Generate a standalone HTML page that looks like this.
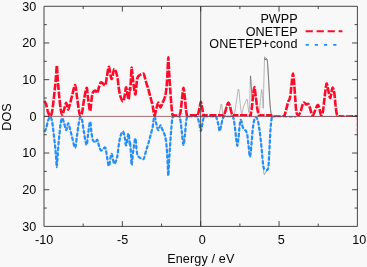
<!DOCTYPE html>
<html><head><meta charset="utf-8"><title>DOS</title>
<style>html,body{margin:0;padding:0;background:#f8f8f8;overflow:hidden}body{width:367px;height:267px;position:relative}</style></head>
<body>
<svg width="367" height="267" viewBox="0 0 367 267" style="display:block;position:absolute;left:0;top:0;filter:blur(0.3px)">
<rect width="367" height="267" fill="#f8f8f8"/>
<g fill="none" stroke="#5a5a5a" stroke-width="0.5" stroke-linejoin="round">
<path d="M201.00,116.40 C203.17,116.40 211.08,116.47 214.00,116.40 C216.92,116.33 217.50,117.07 218.50,116.00 C219.50,114.93 219.53,112.00 220.00,110.00 C220.47,108.00 220.92,104.00 221.30,104.00 C221.68,104.00 221.98,108.00 222.30,110.00 C222.62,112.00 222.75,115.50 223.20,116.00 C223.65,116.50 224.20,115.17 225.00,113.00 C225.80,110.83 227.00,103.00 228.00,103.00 C229.00,103.00 230.17,110.83 231.00,113.00 C231.83,115.17 232.42,115.83 233.00,116.00 C233.58,116.17 233.92,116.50 234.50,114.00 C235.08,111.50 235.83,105.17 236.50,101.00 C237.17,96.83 237.92,88.83 238.50,89.00 C239.08,89.17 239.47,97.88 240.00,102.00 C240.53,106.12 241.12,112.87 241.70,113.70 C242.28,114.53 242.83,109.00 243.50,107.00 C244.17,105.00 245.08,102.95 245.70,101.70 C246.32,100.45 246.78,98.45 247.20,99.50 C247.62,100.55 247.87,105.92 248.20,108.00 C248.53,110.08 248.92,114.00 249.20,112.00 C249.48,110.00 249.68,102.00 249.90,96.00 C250.12,90.00 250.28,77.67 250.50,76.00 C250.72,74.33 250.98,83.17 251.20,86.00 C251.42,88.83 251.55,90.67 251.80,93.00 C252.05,95.33 252.28,100.83 252.70,100.00 C253.12,99.17 253.75,88.33 254.30,88.00 C254.85,87.67 255.38,94.00 256.00,98.00 C256.62,102.00 257.42,110.00 258.00,112.00 C258.58,114.00 259.08,112.00 259.50,110.00 C259.92,108.00 260.13,103.42 260.50,100.00 C260.87,96.58 261.33,89.50 261.70,89.50 C262.07,89.50 262.45,96.92 262.70,100.00 C262.95,103.08 263.02,110.50 263.20,108.00 C263.38,105.50 263.57,93.32 263.80,85.00 C264.03,76.68 264.32,62.27 264.60,58.10 C264.88,53.93 265.27,59.85 265.50,60.00 C265.73,60.15 265.70,58.87 266.00,59.00 C266.30,59.13 266.88,57.63 267.30,60.80 C267.72,63.97 268.05,70.80 268.50,78.00 C268.95,85.20 269.52,97.83 270.00,104.00 C270.48,110.17 270.90,112.93 271.40,115.00 C271.90,117.07 258.73,116.17 273.00,116.40 C287.27,116.63 343.00,116.40 357.00,116.40" stroke="#727272"/>
<path d="M264.60,58.10 C264.75,58.42 265.27,59.85 265.50,60.00 C265.73,60.15 265.70,58.87 266.00,59.00 C266.30,59.13 266.88,57.63 267.30,60.80 C267.72,63.97 268.05,70.80 268.50,78.00 C268.95,85.20 269.52,97.83 270.00,104.00 C270.48,110.17 271.17,113.17 271.40,115.00" stroke="#4a4a4a" stroke-width="0.6"/>
<path d="M250.50,76.00 C250.62,77.67 250.98,83.17 251.20,86.00 C251.42,88.83 251.55,90.67 251.80,93.00 C252.05,95.33 252.55,98.83 252.70,100.00" stroke="#555" stroke-width="0.55"/>
<path d="M44.30,131.80 C44.58,131.30 45.38,130.63 46.00,128.80 C46.62,126.97 47.28,122.80 48.00,120.80 C48.72,118.80 49.63,116.80 50.30,116.80 C50.97,116.80 51.45,118.13 52.00,120.80 C52.55,123.47 53.17,129.30 53.60,132.80 C54.03,136.30 54.28,138.88 54.60,141.80 C54.92,144.72 55.23,147.47 55.50,150.30 C55.77,153.13 55.98,155.98 56.20,158.80 C56.42,161.62 56.60,167.20 56.80,167.20 C57.00,167.20 57.20,161.62 57.40,158.80 C57.60,155.98 57.78,153.13 58.00,150.30 C58.22,147.47 58.43,144.72 58.70,141.80 C58.97,138.88 59.25,135.97 59.60,132.80 C59.95,129.63 60.37,125.25 60.80,122.80 C61.23,120.35 61.67,118.10 62.20,118.10 C62.73,118.10 63.33,120.80 64.00,122.80 C64.67,124.80 65.53,130.02 66.20,130.10 C66.87,130.18 67.42,123.68 68.00,123.30 C68.58,122.92 69.03,125.55 69.70,127.80 C70.37,130.05 71.10,133.48 72.00,136.80 C72.90,140.12 74.27,147.87 75.10,147.70 C75.93,147.53 76.35,140.12 77.00,135.80 C77.65,131.48 78.45,124.88 79.00,121.80 C79.55,118.72 79.80,117.63 80.30,117.30 C80.80,116.97 81.38,117.22 82.00,119.80 C82.62,122.38 83.23,128.60 84.00,132.80 C84.77,137.00 85.93,144.67 86.60,145.00 C87.27,145.33 87.42,138.67 88.00,134.80 C88.58,130.93 89.52,122.13 90.10,121.80 C90.68,121.47 91.07,129.80 91.50,132.80 C91.93,135.80 92.05,138.22 92.70,139.80 C93.35,141.38 94.63,142.30 95.40,142.30 C96.17,142.30 96.70,139.22 97.30,139.80 C97.90,140.38 98.42,144.03 99.00,145.80 C99.58,147.57 100.13,149.82 100.80,150.40 C101.47,150.98 102.23,149.73 103.00,149.30 C103.77,148.87 104.73,146.55 105.40,147.80 C106.07,149.05 106.40,153.77 107.00,156.80 C107.60,159.83 108.25,166.50 109.00,166.00 C109.75,165.50 110.62,154.17 111.50,153.80 C112.38,153.43 113.33,163.38 114.30,163.80 C115.27,164.22 116.60,159.13 117.30,156.30 C118.00,153.47 118.00,150.05 118.50,146.80 C119.00,143.55 119.55,139.37 120.30,136.80 C121.05,134.23 122.25,131.23 123.00,131.40 C123.75,131.57 124.27,135.48 124.80,137.80 C125.33,140.12 125.58,146.02 126.20,145.30 C126.82,144.58 127.92,133.75 128.50,133.50 C129.08,133.25 129.42,142.25 129.70,143.80 C129.98,145.35 129.98,140.97 130.20,142.80 C130.42,144.63 130.75,151.08 131.00,154.80 C131.25,158.52 131.37,165.43 131.70,165.10 C132.03,164.77 132.40,157.23 133.00,152.80 C133.60,148.37 134.72,139.17 135.30,138.50 C135.88,137.83 136.12,146.00 136.50,148.80 C136.88,151.60 137.02,153.80 137.60,155.30 C138.18,156.80 139.02,157.17 140.00,157.80 C140.98,158.43 142.67,159.60 143.50,159.10 C144.33,158.60 144.50,156.43 145.00,154.80 C145.50,153.17 146.00,150.97 146.50,149.30 C147.00,147.63 147.42,146.80 148.00,144.80 C148.58,142.80 149.25,140.13 150.00,137.30 C150.75,134.47 151.77,131.28 152.50,127.80 C153.23,124.32 153.77,117.07 154.40,116.40 C155.03,115.73 155.67,121.52 156.30,123.80 C156.93,126.08 157.50,129.85 158.20,130.10 C158.90,130.35 159.78,125.35 160.50,125.30 C161.22,125.25 161.75,128.05 162.50,129.80 C163.25,131.55 164.38,133.63 165.00,135.80 C165.62,137.97 165.85,139.97 166.20,142.80 C166.55,145.63 166.85,149.13 167.10,152.80 C167.35,156.47 167.50,161.00 167.70,164.80 C167.90,168.60 168.10,175.60 168.30,175.60 C168.50,175.60 168.68,168.60 168.90,164.80 C169.12,161.00 169.35,156.80 169.60,152.80 C169.85,148.80 170.12,144.80 170.40,140.80 C170.68,136.80 170.98,132.47 171.30,128.80 C171.62,125.13 171.93,120.87 172.30,118.80 C172.67,116.73 172.38,116.80 173.50,116.40 C174.62,116.00 177.83,115.67 179.00,116.40 C180.17,117.13 180.00,117.90 180.50,120.80 C181.00,123.70 181.50,129.77 182.00,133.80 C182.50,137.83 183.00,145.00 183.50,145.00 C184.00,145.00 184.58,137.50 185.00,133.80 C185.42,130.10 185.67,125.55 186.00,122.80 C186.33,120.05 186.58,118.37 187.00,117.30 C187.42,116.23 186.92,116.55 188.50,116.40 C190.08,116.25 194.95,116.17 196.50,116.40 C198.05,116.63 197.30,116.40 197.80,117.80 C198.30,119.20 198.98,122.60 199.50,124.80 C200.02,127.00 200.45,131.00 200.90,131.00 C201.35,131.00 201.75,127.00 202.20,124.80 C202.65,122.60 203.17,119.20 203.60,117.80 C204.03,116.40 202.92,116.63 204.80,116.40 C206.68,116.17 212.95,116.13 214.90,116.40 C216.85,116.67 215.95,116.73 216.50,118.00 C217.05,119.27 217.67,121.83 218.20,124.00 C218.73,126.17 219.20,130.83 219.70,131.00 C220.20,131.17 220.68,127.08 221.20,125.00 C221.72,122.92 222.28,119.93 222.80,118.50 C223.32,117.07 222.77,116.75 224.30,116.40 C225.83,116.05 230.38,115.80 232.00,116.40 C233.62,117.00 233.33,116.40 234.00,120.00 C234.67,123.60 235.45,133.58 236.00,138.00 C236.55,142.42 236.88,146.33 237.30,146.50 C237.72,146.67 237.97,143.42 238.50,139.00 C239.03,134.58 239.80,122.00 240.50,120.00 C241.20,118.00 242.02,125.33 242.70,127.00 C243.38,128.67 243.83,128.58 244.60,130.00 C245.37,131.42 246.40,130.92 247.30,135.50 C248.20,140.08 249.10,158.42 250.00,157.50 C250.90,156.58 251.80,136.67 252.70,130.00 C253.60,123.33 254.50,118.92 255.40,117.50 C256.30,116.08 257.20,117.58 258.10,121.50 C259.00,125.42 260.15,135.67 260.80,141.00 C261.45,146.33 261.62,149.58 262.00,153.50 C262.38,157.42 262.75,161.03 263.10,164.50 C263.45,167.97 263.73,172.93 264.10,174.30 C264.47,175.67 264.90,173.25 265.30,172.70 C265.70,172.15 266.10,171.53 266.50,171.00 C266.90,170.47 267.37,170.42 267.70,169.50 C268.03,168.58 268.27,167.75 268.50,165.50 C268.73,163.25 268.88,159.92 269.10,156.00 C269.32,152.08 269.55,146.67 269.80,142.00 C270.05,137.33 270.30,131.87 270.60,128.00 C270.90,124.13 271.20,120.73 271.60,118.80 C272.00,116.87 272.77,116.80 273.00,116.40"/>
</g>
<defs><clipPath id="cu"><rect x="0" y="0" width="367" height="116.60"/></clipPath><clipPath id="cd"><rect x="0" y="116.20" width="367" height="200"/></clipPath></defs>
<path clip-path="url(#cd)" d="M44.30,131.80 C44.58,131.30 45.38,130.63 46.00,128.80 C46.62,126.97 47.28,122.80 48.00,120.80 C48.72,118.80 49.63,116.80 50.30,116.80 C50.97,116.80 51.45,118.13 52.00,120.80 C52.55,123.47 53.17,129.30 53.60,132.80 C54.03,136.30 54.28,138.88 54.60,141.80 C54.92,144.72 55.23,147.47 55.50,150.30 C55.77,153.13 55.98,155.98 56.20,158.80 C56.42,161.62 56.60,167.20 56.80,167.20 C57.00,167.20 57.20,161.62 57.40,158.80 C57.60,155.98 57.78,153.13 58.00,150.30 C58.22,147.47 58.43,144.72 58.70,141.80 C58.97,138.88 59.25,135.97 59.60,132.80 C59.95,129.63 60.37,125.25 60.80,122.80 C61.23,120.35 61.67,118.10 62.20,118.10 C62.73,118.10 63.33,120.80 64.00,122.80 C64.67,124.80 65.53,130.02 66.20,130.10 C66.87,130.18 67.42,123.68 68.00,123.30 C68.58,122.92 69.03,125.55 69.70,127.80 C70.37,130.05 71.10,133.48 72.00,136.80 C72.90,140.12 74.27,147.87 75.10,147.70 C75.93,147.53 76.35,140.12 77.00,135.80 C77.65,131.48 78.45,124.88 79.00,121.80 C79.55,118.72 79.80,117.63 80.30,117.30 C80.80,116.97 81.38,117.22 82.00,119.80 C82.62,122.38 83.23,128.60 84.00,132.80 C84.77,137.00 85.93,144.67 86.60,145.00 C87.27,145.33 87.42,138.67 88.00,134.80 C88.58,130.93 89.52,122.13 90.10,121.80 C90.68,121.47 91.07,129.80 91.50,132.80 C91.93,135.80 92.05,138.22 92.70,139.80 C93.35,141.38 94.63,142.30 95.40,142.30 C96.17,142.30 96.70,139.22 97.30,139.80 C97.90,140.38 98.42,144.03 99.00,145.80 C99.58,147.57 100.13,149.82 100.80,150.40 C101.47,150.98 102.23,149.73 103.00,149.30 C103.77,148.87 104.73,146.55 105.40,147.80 C106.07,149.05 106.40,153.77 107.00,156.80 C107.60,159.83 108.25,166.50 109.00,166.00 C109.75,165.50 110.62,154.17 111.50,153.80 C112.38,153.43 113.33,163.38 114.30,163.80 C115.27,164.22 116.60,159.13 117.30,156.30 C118.00,153.47 118.00,150.05 118.50,146.80 C119.00,143.55 119.55,139.37 120.30,136.80 C121.05,134.23 122.25,131.23 123.00,131.40 C123.75,131.57 124.27,135.48 124.80,137.80 C125.33,140.12 125.58,146.02 126.20,145.30 C126.82,144.58 127.92,133.75 128.50,133.50 C129.08,133.25 129.42,142.25 129.70,143.80 C129.98,145.35 129.98,140.97 130.20,142.80 C130.42,144.63 130.75,151.08 131.00,154.80 C131.25,158.52 131.37,165.43 131.70,165.10 C132.03,164.77 132.40,157.23 133.00,152.80 C133.60,148.37 134.72,139.17 135.30,138.50 C135.88,137.83 136.12,146.00 136.50,148.80 C136.88,151.60 137.02,153.80 137.60,155.30 C138.18,156.80 139.02,157.17 140.00,157.80 C140.98,158.43 142.67,159.60 143.50,159.10 C144.33,158.60 144.50,156.43 145.00,154.80 C145.50,153.17 146.00,150.97 146.50,149.30 C147.00,147.63 147.42,146.80 148.00,144.80 C148.58,142.80 149.25,140.13 150.00,137.30 C150.75,134.47 151.77,131.28 152.50,127.80 C153.23,124.32 153.77,117.07 154.40,116.40 C155.03,115.73 155.67,121.52 156.30,123.80 C156.93,126.08 157.50,129.85 158.20,130.10 C158.90,130.35 159.78,125.35 160.50,125.30 C161.22,125.25 161.75,128.05 162.50,129.80 C163.25,131.55 164.38,133.63 165.00,135.80 C165.62,137.97 165.85,139.97 166.20,142.80 C166.55,145.63 166.85,149.13 167.10,152.80 C167.35,156.47 167.50,161.00 167.70,164.80 C167.90,168.60 168.10,175.60 168.30,175.60 C168.50,175.60 168.68,168.60 168.90,164.80 C169.12,161.00 169.35,156.80 169.60,152.80 C169.85,148.80 170.12,144.80 170.40,140.80 C170.68,136.80 170.98,132.47 171.30,128.80 C171.62,125.13 171.93,120.87 172.30,118.80 C172.67,116.73 172.38,116.80 173.50,116.40 C174.62,116.00 177.83,115.67 179.00,116.40 C180.17,117.13 180.00,117.90 180.50,120.80 C181.00,123.70 181.50,129.77 182.00,133.80 C182.50,137.83 183.00,145.00 183.50,145.00 C184.00,145.00 184.58,137.50 185.00,133.80 C185.42,130.10 185.67,125.55 186.00,122.80 C186.33,120.05 186.58,118.37 187.00,117.30 C187.42,116.23 186.92,116.55 188.50,116.40 C190.08,116.25 194.95,116.17 196.50,116.40 C198.05,116.63 197.30,116.40 197.80,117.80 C198.30,119.20 198.98,122.60 199.50,124.80 C200.02,127.00 200.45,131.00 200.90,131.00 C201.35,131.00 201.75,127.00 202.20,124.80 C202.65,122.60 203.17,119.20 203.60,117.80 C204.03,116.40 202.92,116.63 204.80,116.40 C206.68,116.17 212.95,116.13 214.90,116.40 C216.85,116.67 215.95,116.73 216.50,118.00 C217.05,119.27 217.67,121.83 218.20,124.00 C218.73,126.17 219.20,130.83 219.70,131.00 C220.20,131.17 220.68,127.08 221.20,125.00 C221.72,122.92 222.28,119.93 222.80,118.50 C223.32,117.07 222.77,116.75 224.30,116.40 C225.83,116.05 230.47,116.05 232.00,116.40 C233.53,116.75 233.00,116.57 233.50,118.50 C234.00,120.43 234.55,124.58 235.00,128.00 C235.45,131.42 235.82,136.03 236.20,139.00 C236.58,141.97 236.93,145.80 237.30,145.80 C237.67,145.80 238.03,142.13 238.40,139.00 C238.77,135.87 239.15,130.17 239.50,127.00 C239.85,123.83 240.15,120.83 240.50,120.00 C240.85,119.17 241.23,120.83 241.60,122.00 C241.97,123.17 242.20,125.73 242.70,127.00 C243.20,128.27 244.05,128.93 244.60,129.60 C245.15,130.27 245.55,130.10 246.00,131.00 C246.45,131.90 246.87,132.50 247.30,135.00 C247.73,137.50 248.15,142.40 248.60,146.00 C249.05,149.60 249.55,156.60 250.00,156.60 C250.45,156.60 250.85,150.50 251.30,146.00 C251.75,141.50 252.25,133.77 252.70,129.60 C253.15,125.43 253.55,123.02 254.00,121.00 C254.45,118.98 254.93,118.00 255.40,117.50 C255.87,117.00 256.35,117.33 256.80,118.00 C257.25,118.67 257.65,119.50 258.10,121.50 C258.55,123.50 259.05,126.85 259.50,130.00 C259.95,133.15 260.38,136.57 260.80,140.40 C261.22,144.23 261.63,149.15 262.00,153.00 C262.37,156.85 262.70,160.95 263.00,163.50 C263.30,166.05 263.47,167.22 263.80,168.30 C264.13,169.38 264.55,169.67 265.00,170.00 C265.45,170.33 266.05,170.42 266.50,170.30 C266.95,170.18 267.37,170.10 267.70,169.30 C268.03,168.50 268.27,167.72 268.50,165.50 C268.73,163.28 268.88,159.92 269.10,156.00 C269.32,152.08 269.55,146.67 269.80,142.00 C270.05,137.33 270.30,131.87 270.60,128.00 C270.90,124.13 271.20,120.73 271.60,118.80 C272.00,116.87 268.93,116.80 273.00,116.40 C277.07,116.00 292.17,116.40 296.00,116.40" fill="none" stroke="#1e8fff" stroke-width="2.2" stroke-dasharray="4 1.6" stroke-linejoin="round"/>
<path clip-path="url(#cu)" d="M44.30,101.00 C44.58,101.50 45.38,102.17 46.00,104.00 C46.62,105.83 47.28,110.00 48.00,112.00 C48.72,114.00 49.63,116.00 50.30,116.00 C50.97,116.00 51.45,114.67 52.00,112.00 C52.55,109.33 53.17,103.50 53.60,100.00 C54.03,96.50 54.28,93.92 54.60,91.00 C54.92,88.08 55.23,85.33 55.50,82.50 C55.77,79.67 55.98,76.82 56.20,74.00 C56.42,71.18 56.60,65.60 56.80,65.60 C57.00,65.60 57.20,71.18 57.40,74.00 C57.60,76.82 57.78,79.67 58.00,82.50 C58.22,85.33 58.43,88.08 58.70,91.00 C58.97,93.92 59.25,96.83 59.60,100.00 C59.95,103.17 60.37,107.55 60.80,110.00 C61.23,112.45 61.67,114.70 62.20,114.70 C62.73,114.70 63.33,112.00 64.00,110.00 C64.67,108.00 65.53,102.78 66.20,102.70 C66.87,102.62 67.42,109.12 68.00,109.50 C68.58,109.88 69.03,107.25 69.70,105.00 C70.37,102.75 71.10,99.32 72.00,96.00 C72.90,92.68 74.27,84.93 75.10,85.10 C75.93,85.27 76.35,92.68 77.00,97.00 C77.65,101.32 78.45,107.92 79.00,111.00 C79.55,114.08 79.80,115.17 80.30,115.50 C80.80,115.83 81.38,115.58 82.00,113.00 C82.62,110.42 83.23,104.20 84.00,100.00 C84.77,95.80 85.93,88.13 86.60,87.80 C87.27,87.47 87.42,94.13 88.00,98.00 C88.58,101.87 89.52,110.67 90.10,111.00 C90.68,111.33 91.07,103.00 91.50,100.00 C91.93,97.00 92.05,94.58 92.70,93.00 C93.35,91.42 94.63,90.50 95.40,90.50 C96.17,90.50 96.70,93.58 97.30,93.00 C97.90,92.42 98.42,88.77 99.00,87.00 C99.58,85.23 100.13,82.98 100.80,82.40 C101.47,81.82 102.23,83.07 103.00,83.50 C103.77,83.93 104.73,86.25 105.40,85.00 C106.07,83.75 106.40,79.03 107.00,76.00 C107.60,72.97 108.25,66.30 109.00,66.80 C109.75,67.30 110.62,78.63 111.50,79.00 C112.38,79.37 113.33,69.42 114.30,69.00 C115.27,68.58 116.60,73.67 117.30,76.50 C118.00,79.33 118.00,82.75 118.50,86.00 C119.00,89.25 119.55,93.43 120.30,96.00 C121.05,98.57 122.25,101.57 123.00,101.40 C123.75,101.23 124.27,97.32 124.80,95.00 C125.33,92.68 125.58,86.78 126.20,87.50 C126.82,88.22 127.92,99.05 128.50,99.30 C129.08,99.55 129.42,90.55 129.70,89.00 C129.98,87.45 129.98,91.83 130.20,90.00 C130.42,88.17 130.75,81.72 131.00,78.00 C131.25,74.28 131.37,67.37 131.70,67.70 C132.03,68.03 132.40,75.57 133.00,80.00 C133.60,84.43 134.72,93.63 135.30,94.30 C135.88,94.97 136.12,86.80 136.50,84.00 C136.88,81.20 137.02,79.00 137.60,77.50 C138.18,76.00 139.02,75.63 140.00,75.00 C140.98,74.37 142.67,73.20 143.50,73.70 C144.33,74.20 144.50,76.37 145.00,78.00 C145.50,79.63 146.00,81.83 146.50,83.50 C147.00,85.17 147.42,86.00 148.00,88.00 C148.58,90.00 149.25,92.67 150.00,95.50 C150.75,98.33 151.77,101.70 152.50,105.00 C153.23,108.30 153.77,114.63 154.40,115.30 C155.03,115.97 155.67,111.10 156.30,109.00 C156.93,106.90 157.50,102.95 158.20,102.70 C158.90,102.45 159.78,107.45 160.50,107.50 C161.22,107.55 161.75,104.75 162.50,103.00 C163.25,101.25 164.38,99.17 165.00,97.00 C165.62,94.83 165.85,92.83 166.20,90.00 C166.55,87.17 166.85,83.67 167.10,80.00 C167.35,76.33 167.50,71.80 167.70,68.00 C167.90,64.20 168.10,57.20 168.30,57.20 C168.50,57.20 168.68,64.20 168.90,68.00 C169.12,71.80 169.35,76.00 169.60,80.00 C169.85,84.00 170.12,88.00 170.40,92.00 C170.68,96.00 170.98,100.33 171.30,104.00 C171.62,107.67 171.93,112.12 172.30,114.00 C172.67,115.88 172.38,115.08 173.50,115.30 C174.62,115.52 177.83,115.85 179.00,115.30 C180.17,114.75 180.00,114.72 180.50,112.00 C181.00,109.28 181.50,103.03 182.00,99.00 C182.50,94.97 183.00,87.80 183.50,87.80 C184.00,87.80 184.58,95.30 185.00,99.00 C185.42,102.70 185.67,107.25 186.00,110.00 C186.33,112.75 186.58,114.62 187.00,115.50 C187.42,116.38 186.92,115.33 188.50,115.30 C190.08,115.27 194.95,115.35 196.50,115.30 C198.05,115.25 197.30,116.22 197.80,115.00 C198.30,113.78 198.98,110.20 199.50,108.00 C200.02,105.80 200.45,101.80 200.90,101.80 C201.35,101.80 201.75,105.80 202.20,108.00 C202.65,110.20 203.17,113.78 203.60,115.00 C204.03,116.22 201.65,115.25 204.80,115.30 C207.95,115.35 219.33,115.30 222.50,115.30 C225.67,115.30 223.28,116.10 223.80,115.30 C224.32,114.50 225.07,112.13 225.60,110.50 C226.13,108.87 226.53,106.83 227.00,105.50 C227.47,104.17 227.93,102.50 228.40,102.50 C228.87,102.50 229.37,104.17 229.80,105.50 C230.23,106.83 230.58,108.87 231.00,110.50 C231.42,112.13 231.88,114.50 232.30,115.30 C232.72,116.10 230.67,115.30 233.50,115.30 C236.33,115.30 246.47,115.30 249.30,115.30 C252.13,115.30 250.08,116.52 250.50,115.30 C250.92,114.08 251.38,111.22 251.80,108.00 C252.22,104.78 252.58,99.50 253.00,96.00 C253.42,92.50 253.85,87.00 254.30,87.00 C254.75,87.00 255.22,92.50 255.70,96.00 C256.18,99.50 256.67,104.78 257.20,108.00 C257.73,111.22 258.40,114.08 258.90,115.30 C259.40,116.52 258.22,115.30 260.20,115.30 C262.18,115.30 268.78,115.12 270.80,115.30 C272.82,115.48 270.27,116.22 272.30,116.40 C274.33,116.58 280.97,116.55 283.00,116.40 C285.03,116.25 283.88,116.98 284.50,115.50 C285.12,114.02 286.07,109.83 286.70,107.50 C287.33,105.17 287.82,102.92 288.30,101.50 C288.78,100.08 289.22,100.25 289.60,99.00 C289.98,97.75 290.27,96.50 290.60,94.00 C290.93,91.50 291.20,87.42 291.60,84.00 C292.00,80.58 292.57,73.50 293.00,73.50 C293.43,73.50 293.83,79.92 294.20,84.00 C294.57,88.08 294.83,93.33 295.20,98.00 C295.57,102.67 295.88,109.17 296.40,112.00 C296.92,114.83 297.62,115.00 298.30,115.00 C298.98,115.00 299.80,113.67 300.50,112.00 C301.20,110.33 301.88,106.58 302.50,105.00 C303.12,103.42 303.58,102.58 304.20,102.50 C304.82,102.42 305.52,104.27 306.20,104.50 C306.88,104.73 307.67,103.32 308.30,103.90 C308.93,104.48 309.47,106.40 310.00,108.00 C310.53,109.60 311.02,112.33 311.50,113.50 C311.98,114.67 312.40,115.25 312.90,115.00 C313.40,114.75 313.93,113.25 314.50,112.00 C315.07,110.75 315.72,108.67 316.30,107.50 C316.88,106.33 317.47,104.75 318.00,105.00 C318.53,105.25 319.00,107.33 319.50,109.00 C320.00,110.67 320.45,114.50 321.00,115.00 C321.55,115.50 322.25,114.50 322.80,112.00 C323.35,109.50 323.83,103.83 324.30,100.00 C324.77,96.17 325.18,91.75 325.60,89.00 C326.02,86.25 326.37,83.33 326.80,83.50 C327.23,83.67 327.65,87.58 328.20,90.00 C328.75,92.42 329.55,97.67 330.10,98.00 C330.65,98.33 331.05,93.72 331.50,92.00 C331.95,90.28 332.33,87.53 332.80,87.70 C333.27,87.87 333.85,90.12 334.30,93.00 C334.75,95.88 335.12,101.62 335.50,105.00 C335.88,108.38 336.18,111.47 336.60,113.30 C337.02,115.13 337.52,115.48 338.00,116.00 C338.48,116.52 336.33,116.33 339.50,116.40 C342.67,116.47 354.08,116.40 357.00,116.40" fill="none" stroke="#ff0a28" stroke-width="2.6" stroke-dasharray="7 1.5" stroke-linejoin="round"/>
<path d="M356.3,116.4 V135" fill="none" stroke="#ff0a28" stroke-width="0.8" stroke-dasharray="4 2" opacity="0.25"/>
<path d="M44.0,116.4 H357.4" stroke="#7a2530" stroke-width="0.65" fill="none"/>
<path d="M44.0,6.3 H357.4 V226.4 H44.0 Z M200.70,6.3 V226.4 M83.17,226.4 v-2.8 M83.17,6.3 v2.8 M122.35,226.4 v-5.3 M122.35,6.3 v5.3 M161.52,226.4 v-2.8 M161.52,6.3 v2.8 M200.70,226.4 v-5.3 M200.70,6.3 v5.3 M239.88,226.4 v-2.8 M239.88,6.3 v2.8 M279.05,226.4 v-5.3 M279.05,6.3 v5.3 M318.22,226.4 v-2.8 M318.22,6.3 v2.8 M44.0,24.64 h2.8 M357.4,24.64 h-2.8 M44.0,42.98 h5.3 M357.4,42.98 h-5.3 M44.0,61.32 h2.8 M357.4,61.32 h-2.8 M44.0,79.67 h5.3 M357.4,79.67 h-5.3 M44.0,98.01 h2.8 M357.4,98.01 h-2.8 M44.0,116.35 h5.3 M357.4,116.35 h-5.3 M44.0,134.69 h2.8 M357.4,134.69 h-2.8 M44.0,153.03 h5.3 M357.4,153.03 h-5.3 M44.0,171.38 h2.8 M357.4,171.38 h-2.8 M44.0,189.72 h5.3 M357.4,189.72 h-5.3 M44.0,208.06 h2.8 M357.4,208.06 h-2.8" fill="none" stroke="#333" stroke-width="0.9"/>
<path d="M305.6,31.3 H342.4" stroke="#ff0a28" stroke-width="2" stroke-dasharray="7.2 3.8" fill="none"/>
<path d="M305.6,44.8 H342" stroke="#1e8fff" stroke-width="1.7" stroke-dasharray="3.2 6" fill="none"/>
<g font-family="Liberation Sans, Arial, sans-serif" font-size="12.5" fill="#050505"><text transform="translate(36.40,10.50) scale(1.01,1)" text-anchor="end">30</text><text transform="translate(36.40,47.18) scale(1.01,1)" text-anchor="end">20</text><text transform="translate(36.40,83.87) scale(1.01,1)" text-anchor="end">10</text><text transform="translate(36.40,120.55) scale(1.01,1)" text-anchor="end">0</text><text transform="translate(36.40,157.23) scale(1.01,1)" text-anchor="end">10</text><text transform="translate(36.40,193.92) scale(1.01,1)" text-anchor="end">20</text><text transform="translate(36.40,230.60) scale(1.01,1)" text-anchor="end">30</text><text transform="translate(44.20,243.60) scale(1.01,1)" text-anchor="middle">-10</text><text transform="translate(122.55,243.60) scale(1.01,1)" text-anchor="middle">-5</text><text transform="translate(202.30,243.60) scale(1.01,1)" text-anchor="middle">0</text><text transform="translate(281.15,243.60) scale(1.01,1)" text-anchor="middle">5</text><text transform="translate(359.20,243.60) scale(1.01,1)" text-anchor="middle">10</text><text transform="translate(297.60,22.90) scale(1.01,1)" text-anchor="end">PWPP</text><text transform="translate(297.60,35.50) scale(1.01,1)" text-anchor="end">ONETEP</text><text transform="translate(297.60,48.40) scale(1.01,1)" text-anchor="end" letter-spacing="0.15">ONETEP+cond</text><text transform="translate(200.80,262.70) scale(1.01,1)" text-anchor="middle" letter-spacing="0.12">Energy / eV</text><text transform="translate(11.20,117.00) rotate(-90) scale(1.01,1)" text-anchor="middle">DOS</text></g>
</svg>
</body></html>
